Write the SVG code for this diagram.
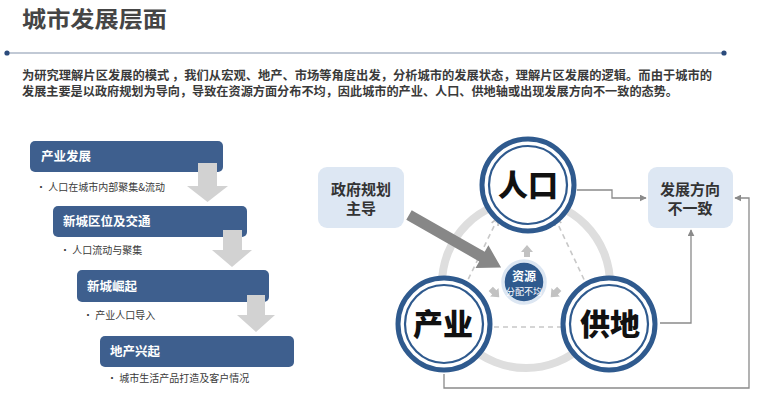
<svg xmlns="http://www.w3.org/2000/svg" width="760" height="408" viewBox="0 0 760 408">
<defs>
<style>
.cjk{font-family:"Noto Sans CJK SC","Noto Sans",sans-serif;}
.title{font-size:22px;font-weight:700;fill:#454545;}
.para{font-size:12px;font-weight:700;fill:#3a3a3a;}
.stepbox{fill:#3e5f8e;}
.steptxt{font-size:12.5px;font-weight:700;fill:#ffffff;}
.bullet{font-size:10px;fill:#3a3a3a;}
.garrow{fill:#d2d2d2;}
.lbox{fill:#dde7f3;}
.ltxt{font-size:15px;font-weight:700;fill:#333333;text-anchor:middle;}
.ring-o{fill:#ffffff;stroke:#2f5a8e;stroke-width:5;}
.ring-i{fill:none;stroke:#2f5a8e;stroke-width:2.2;}
.ctxt{font-size:30px;font-weight:900;fill:#111111;text-anchor:middle;}
.conn{fill:none;stroke:#8a8a8a;stroke-width:1.3;}
.dash{fill:none;stroke:#c8c8c8;stroke-width:1.6;stroke-dasharray:5 4;}
.small{fill:#c2c2c2;}
</style>
<marker id="ah" viewBox="0 0 10 10" refX="9" refY="5" markerWidth="7" markerHeight="7" markerUnits="userSpaceOnUse" orient="auto">
<path d="M0,0 L10,5 L0,10 z" fill="#8a8a8a"/>
</marker>
<marker id="chev" viewBox="0 0 10 10" refX="9" refY="5" markerWidth="9" markerHeight="9" markerUnits="userSpaceOnUse" orient="auto-start-reverse">
<path d="M1,1 L9,5 L1,9" fill="none" stroke="#c0c0c0" stroke-width="1.8"/>
</marker>
</defs>
<rect width="760" height="408" fill="#ffffff"/>

<g id="header">
<text class="cjk title" x="22" y="27" textLength="145" lengthAdjust="spacingAndGlyphs">城市发展层面</text>
<line x1="7" y1="53" x2="724" y2="53" stroke="#8494ab" stroke-width="1.2"/>
<circle cx="7" cy="53" r="2.6" fill="#2b4b7c"/>
<circle cx="724" cy="53" r="2.6" fill="#2b4b7c"/>
<text class="cjk para" x="22" y="80" textLength="690" lengthAdjust="spacingAndGlyphs">为研究理解片区发展的模式 ，我们从宏观、地产、市场等角度出发，分析城市的发展状态，理解片区发展的逻辑。而由于城市的</text>
<text class="cjk para" x="22" y="96" textLength="656" lengthAdjust="spacingAndGlyphs">发展主要是以政府规划为导向，导致在资源方面分布不均，因此城市的产业、人口、供地轴或出现发展方向不一致的态势。</text>
</g>

<g id="step1">
<rect class="stepbox" x="30" y="141" width="193" height="31" rx="5"/>
<text class="cjk steptxt" x="41" y="161">产业发展</text>
<text class="cjk bullet" x="36" y="191">• 人口在城市内部聚集&amp;流动</text>
</g>
<g id="step2">
<rect class="stepbox" x="53" y="206" width="194" height="31" rx="5"/>
<text class="cjk steptxt" x="63" y="226">新城区位及交通</text>
<text class="cjk bullet" x="60" y="254">• 人口流动与聚集</text>
</g>
<g id="step3">
<rect class="stepbox" x="77" y="270" width="192" height="32" rx="5"/>
<text class="cjk steptxt" x="87" y="291">新城崛起</text>
<text class="cjk bullet" x="83" y="319">• 产业人口导入</text>
</g>
<g id="step4">
<rect class="stepbox" x="100" y="336" width="194" height="31" rx="5"/>
<text class="cjk steptxt" x="110" y="356">地产兴起</text>
<text class="cjk bullet" x="107" y="382">• 城市生活产品打造及客户情况</text>
</g>

<g id="step-arrows">
<polygon class="garrow" points="198,163 217,163 217,186 228,186 207.5,202 187,186 198,186"/>
<polygon class="garrow" points="223,230 242,230 242,250 252,250 232,267 212,250 223,250"/>
<polygon class="garrow" points="247,295 265,295 265,315 275,315 256,332 237,315 247,315"/>
</g>

<g id="bigring">
<circle cx="526" cy="284" r="84" fill="none" stroke="#dedede" stroke-width="8"/>
</g>

<g id="connectors">
<line class="dash" x1="498" y1="218" x2="463" y2="290" marker-start="url(#chev)" marker-end="url(#chev)"/>
<line class="dash" x1="555" y1="218" x2="589" y2="290" marker-start="url(#chev)" marker-end="url(#chev)"/>
<line class="dash" x1="476" y1="327" x2="577" y2="327" marker-start="url(#chev)" marker-end="url(#chev)"/>
<path class="conn" d="M577,190 H612 V198 H646" marker-end="url(#ah)"/>
<path class="conn" d="M660,323 H691 V230" marker-end="url(#ah)"/>
<path class="conn" d="M444,374 V388 H749 V198 H735" marker-end="url(#ah)"/>
</g>

<g id="renkou">
<circle class="ring-o" cx="528" cy="185" r="46"/>
<circle class="ring-i" cx="528" cy="185" r="39"/>
<text class="cjk ctxt" x="528" y="196">人口</text>
</g>
<g id="chanye">
<circle class="ring-o" cx="444" cy="324" r="46"/>
<circle class="ring-i" cx="444" cy="324" r="39"/>
<text class="cjk ctxt" x="443" y="335">产业</text>
</g>
<g id="gongdi">
<circle class="ring-o" cx="609" cy="324" r="46"/>
<circle class="ring-i" cx="609" cy="324" r="39"/>
<text class="cjk ctxt" x="610" y="335">供地</text>
</g>

<g id="ziyuan">
<polygon class="small" points="527,245 533,252 530,252 530,257 524,257 524,252 521,252"/>
<g transform="translate(495,293) rotate(135)"><polygon class="small" points="0,-6 6,1 3,1 3,6 -3,6 -3,1 -6,1"/></g>
<g transform="translate(555,293) rotate(-135)"><polygon class="small" points="0,-6 6,1 3,1 3,6 -3,6 -3,1 -6,1"/></g>
<circle cx="524" cy="282" r="21" fill="#2f5a8e" stroke="#dce6f2" stroke-width="3.5"/>
<text class="cjk" x="524" y="281" font-size="12" font-weight="700" fill="#ffffff" text-anchor="middle">资源</text>
<text class="cjk" x="524" y="295" font-size="9" fill="#ffffff" text-anchor="middle">分配不均</text>
</g>

<g id="gov">
<rect class="lbox" x="318" y="167" width="86" height="61" rx="9"/>
<text class="cjk ltxt" x="361" y="195">政府规划</text>
<text class="cjk ltxt" x="361" y="214">主导</text>
</g>
<g id="gov-arrow">
<g transform="translate(409,215) rotate(29.7)">
<polygon points="0,-5.5 84,-5.5 84,-13 106,0 84,13 84,5.5 0,5.5" fill="#878787"/>
</g>
</g>

<g id="direction">
<rect class="lbox" x="648" y="167" width="85" height="61" rx="9"/>
<text class="cjk ltxt" x="690" y="195">发展方向</text>
<text class="cjk ltxt" x="690" y="214">不一致</text>
</g>
</svg>
